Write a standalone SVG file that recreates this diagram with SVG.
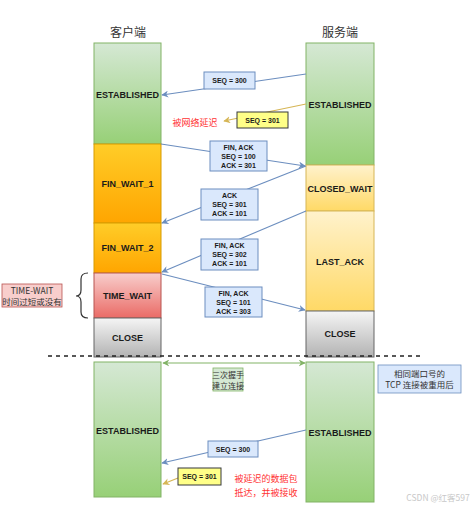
<svg xmlns="http://www.w3.org/2000/svg" width="474" height="506" viewBox="0 0 474 506">
<defs>
<linearGradient id="gGreen" x1="0" y1="0" x2="0" y2="1"><stop offset="0" stop-color="#d5e8d4"/><stop offset="1" stop-color="#97d077"/></linearGradient>
<linearGradient id="gOrange" x1="0" y1="0" x2="0" y2="1"><stop offset="0" stop-color="#ffcd28"/><stop offset="1" stop-color="#ffa500"/></linearGradient>
<linearGradient id="gYellow" x1="0" y1="0" x2="0" y2="1"><stop offset="0" stop-color="#fff2cc"/><stop offset="1" stop-color="#ffd966"/></linearGradient>
<linearGradient id="gRed" x1="0" y1="0" x2="0" y2="1"><stop offset="0" stop-color="#f8cecc"/><stop offset="1" stop-color="#ea6b66"/></linearGradient>
<linearGradient id="gGray" x1="0" y1="0" x2="0" y2="1"><stop offset="0" stop-color="#f5f5f5"/><stop offset="1" stop-color="#b3b3b3"/></linearGradient>
<marker id="aBlue" viewBox="0 0 10 10" refX="9" refY="5" markerWidth="7" markerHeight="7" orient="auto" markerUnits="userSpaceOnUse"><path d="M0,0 L10,5 L0,10 L3,5 z" fill="#6c8ebf"/></marker>
<marker id="aTan" viewBox="0 0 10 10" refX="9" refY="5" markerWidth="7" markerHeight="7" orient="auto" markerUnits="userSpaceOnUse"><path d="M0,0 L10,5 L0,10 L3,5 z" fill="#d6b656"/></marker>
<marker id="aGreen" viewBox="0 0 10 10" refX="9" refY="5" markerWidth="7" markerHeight="7" orient="auto-start-reverse" markerUnits="userSpaceOnUse"><path d="M0,0 L10,5 L0,10 L3,5 z" fill="#82b366"/></marker>
</defs>
<style>
.st{font-family:"Liberation Sans",Arial,sans-serif;font-weight:bold;font-size:9px;fill:#1a1a1a;text-anchor:middle;dominant-baseline:central}
.msg{font-family:"Liberation Sans",Arial,sans-serif;font-weight:bold;font-size:7px;fill:#1a1a1a;text-anchor:middle;dominant-baseline:central}
.cn{font-family:"Noto Sans CJK SC","Noto Sans",sans-serif;text-anchor:middle;dominant-baseline:central}
.blue{fill:#dae8fc;stroke:#6c8ebf;stroke-width:1}
.yel{fill:#ffff88;stroke:#36393d;stroke-width:1}
.lb{stroke:#6c8ebf;stroke-width:1.2;fill:none}
.lt{stroke:#d6b656;stroke-width:1.2;fill:none}
</style>
<rect width="474" height="506" fill="#ffffff"/>
<text class="cn" x="128" y="31" font-size="12" fill="#333">客户端</text>
<text class="cn" x="340" y="31" font-size="12" fill="#333">服务端</text>

<g id="client-established"><rect x="94" y="43" width="67" height="101" fill="url(#gGreen)" stroke="#82b366"/><text class="st" x="127.5" y="95">ESTABLISHED</text></g>
<g id="client-fin-wait-1"><rect x="94" y="144" width="67" height="79" fill="url(#gOrange)" stroke="#d79b00"/><text class="st" x="127.5" y="184">FIN_WAIT_1</text></g>
<g id="client-fin-wait-2"><rect x="94" y="223" width="67" height="50" fill="url(#gOrange)" stroke="#d79b00"/><text class="st" x="127.5" y="248">FIN_WAIT_2</text></g>
<g id="client-time-wait"><rect x="94" y="273" width="67" height="45" fill="url(#gRed)" stroke="#b85450"/><text class="st" x="127.5" y="296">TIME_WAIT</text></g>
<g id="client-close"><rect x="94" y="318" width="67" height="39" fill="url(#gGray)" stroke="#666666"/><text class="st" x="127.5" y="338">CLOSE</text></g>

<g id="server-established"><rect x="306" y="43" width="68" height="122" fill="url(#gGreen)" stroke="#82b366"/><text class="st" x="340" y="105">ESTABLISHED</text></g>
<g id="server-closed-wait"><rect x="306" y="165" width="68" height="46" fill="url(#gYellow)" stroke="#d6b656"/><text class="st" x="340" y="189">CLOSED_WAIT</text></g>
<g id="server-last-ack"><rect x="306" y="211" width="68" height="100" fill="url(#gYellow)" stroke="#d6b656"/><text class="st" x="340" y="262">LAST_ACK</text></g>
<g id="server-close"><rect x="306" y="311" width="68" height="46" fill="url(#gGray)" stroke="#666666"/><text class="st" x="340" y="334">CLOSE</text></g>

<line x1="48" y1="356" x2="421" y2="356" stroke="#222" stroke-width="1.5" stroke-dasharray="4,4"/>

<g id="client-established-2"><rect x="94" y="362" width="67" height="135" fill="url(#gGreen)" stroke="#82b366"/><text class="st" x="127.5" y="431">ESTABLISHED</text></g>
<g id="server-established-2"><rect x="306" y="362" width="68" height="140" fill="url(#gGreen)" stroke="#82b366"/><text class="st" x="340" y="433">ESTABLISHED</text></g>

<g id="connectors">
<line class="lb" x1="306" y1="74" x2="162" y2="95" marker-end="url(#aBlue)"/>
<line class="lt" x1="306" y1="104" x2="224" y2="121" marker-end="url(#aTan)"/>
<line class="lb" x1="161" y1="144" x2="305" y2="166" marker-end="url(#aBlue)"/>
<line class="lb" x1="306" y1="166" x2="162" y2="223" marker-end="url(#aBlue)"/>
<line class="lb" x1="306" y1="211" x2="162" y2="272" marker-end="url(#aBlue)"/>
<line class="lb" x1="162" y1="274" x2="305" y2="310" marker-end="url(#aBlue)"/>
<line stroke="#82b366" stroke-width="1.2" x1="163" y1="363" x2="305" y2="363" marker-start="url(#aGreen)" marker-end="url(#aGreen)"/>
<line class="lb" x1="306" y1="430" x2="162" y2="463" marker-end="url(#aBlue)"/>
<line class="lt" x1="178" y1="478" x2="163" y2="484" marker-end="url(#aTan)"/>
</g>

<g id="msg-seq300"><rect class="blue" x="204" y="72" width="51" height="17"/><text class="msg" x="229.5" y="80.5">SEQ = 300</text></g>
<g id="msg-seq301"><rect class="yel" x="237" y="112" width="51" height="16"/><text class="msg" x="262.5" y="120">SEQ = 301</text></g>
<text class="cn" x="195" y="122" font-size="9" fill="#ff3333">被网络延迟</text>
<g id="msg-fin1"><rect class="blue" x="210" y="141" width="57" height="30"/><text class="msg" x="238.5" y="147">FIN, ACK</text><text class="msg" x="238.5" y="156">SEQ = 100</text><text class="msg" x="238.5" y="165">ACK = 301</text></g>
<g id="msg-ack"><rect class="blue" x="201" y="189" width="57" height="31"/><text class="msg" x="229.5" y="195.5">ACK</text><text class="msg" x="229.5" y="204.5">SEQ = 301</text><text class="msg" x="229.5" y="213.5">ACK = 101</text></g>
<g id="msg-fin2"><rect class="blue" x="201" y="239" width="57" height="31"/><text class="msg" x="229.5" y="245.5">FIN, ACK</text><text class="msg" x="229.5" y="254.5">SEQ = 302</text><text class="msg" x="229.5" y="263.5">ACK = 101</text></g>
<g id="msg-fin3"><rect class="blue" x="205" y="287" width="57" height="30"/><text class="msg" x="233.5" y="293">FIN, ACK</text><text class="msg" x="233.5" y="302">SEQ = 101</text><text class="msg" x="233.5" y="311">ACK = 303</text></g>

<g id="note-time-wait"><rect x="2" y="284" width="60" height="23" fill="#f8cecc" stroke="#b85450" stroke-width="0.8"/><text class="cn" x="32" y="290" font-size="8.5" fill="#333">TIME-WAIT</text><text class="cn" x="32" y="301" font-size="8.5" fill="#333">时间过短或没有</text></g>
<path d="M88,273 Q81,273 81,279 L81,290 Q81,296 76,296 Q81,296 81,302 L81,312 Q81,318 88,318" fill="none" stroke="#333" stroke-width="1.2"/>

<g id="note-handshake"><rect x="213" y="368" width="30" height="23" fill="#d5e8d4" stroke="#82b366" stroke-width="0.8"/><text class="cn" x="228" y="374" font-size="8" fill="#333">三次握手</text><text class="cn" x="228" y="385" font-size="8" fill="#333">建立连接</text></g>
<g id="note-reuse"><rect x="378" y="365" width="83" height="28" fill="#dae8fc" stroke="#6c8ebf" stroke-width="0.8"/><text class="cn" x="419.5" y="373" font-size="8.5" fill="#333">相同端口号的</text><text class="cn" x="419.5" y="384" font-size="8.5" fill="#333">TCP 连接被重用后</text></g>

<g id="msg-seq300-2"><rect class="blue" x="208" y="441" width="50" height="16"/><text class="msg" x="233" y="449">SEQ = 300</text></g>
<g id="msg-seq301-2"><rect class="yel" x="178" y="468" width="43" height="17"/><text class="msg" x="199.5" y="476.5">SEQ = 301</text></g>
<text class="cn" x="266" y="478" font-size="9" fill="#ff3333">被延迟的数据包</text>
<text class="cn" x="266" y="492" font-size="9" fill="#ff3333">抵达，并被接收</text>
<text class="cn" x="438" y="497" font-size="8.5" fill="#c8c8c8">CSDN @红客597</text>
</svg>
